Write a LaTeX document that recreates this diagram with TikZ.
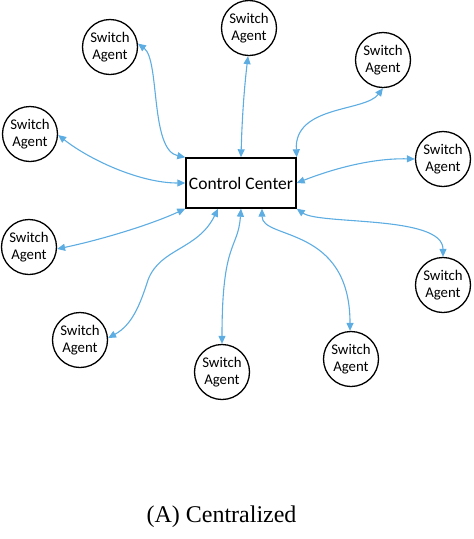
\documentclass[tikz,border=0pt]{standalone}
\usepackage{fontspec}
\setmainfont{Carlito}
\newfontfamily\capfont{Liberation Serif}
\usetikzlibrary{arrows.meta,calc}
\definecolor{linkblue}{RGB}{93,173,226}
\begin{document}
\begin{tikzpicture}[x=1pt,y=-1pt,
 agent/.style={circle,draw,line width=1.3pt,minimum size=55pt,inner sep=0pt,align=center,font=\fontsize{14.8}{17}\selectfont},
 center/.style={draw,line width=1.4pt,minimum width=110pt,minimum height=50pt,inner sep=0pt,font=\fontsize{17.5}{20}\selectfont},
 link/.style={draw=linkblue,line width=1.1pt,{Triangle[length=8pt,width=7pt]}-{Triangle[length=8pt,width=7pt]}},
 ]
\useasboundingbox (0,0) rectangle (474,539);
\node[center] (cc) at (241,183) {Control Center};
\node[agent] (a1) at (110,47) {Switch\\Agent};
\node[agent] (a2) at (249,28) {Switch\\Agent};
\node[agent] (a3) at (383,60) {Switch\\Agent};
\node[agent] (a4) at (30,134) {Switch\\Agent};
\node[agent] (a5) at (443,159) {Switch\\Agent};
\node[agent] (a6) at (29,247) {Switch\\Agent};
\node[agent] (a7) at (80,340) {Switch\\Agent};
\node[agent] (a8) at (222,372) {Switch\\Agent};
\node[agent] (a9) at (351,359) {Switch\\Agent};
\node[agent] (a10) at (443,285) {Switch\\Agent};
\draw[link] (a1.7) .. controls (160,60) and (150,150) .. (cc.north west);
\draw[link] (a2.-92) .. controls (244,90) and (242,120) .. (cc.north);
\draw[link] (cc.north east) .. controls (294,105) and (365,112) .. (a3.-90);
\draw[link] (a4.-2) .. controls (90,160) and (140,183) .. (cc.west);
\draw[link] (cc.east) .. controls (330,170) and (370,158) .. (a5.180);
\draw[link] (cc.south west) .. controls (150,225) and (100,240) .. (a6.-4);
\draw[link] ([xshift=-23pt]cc.south) .. controls (198,250) and (160,248) .. (148,280) .. controls (140,305) and (132,325) .. (a7.4);
\draw[link] (cc.south) .. controls (238,250) and (222,240) .. (a8.90);
\draw[link] ([xshift=21pt]cc.south) .. controls (262,240) and (350,225) .. (a9.92);
\draw[link] (cc.south east) .. controls (320,225) and (443,215) .. (a10.90);
\node[font=\capfont\fontsize{24}{27}\selectfont,anchor=base] (cap) at (221.5,522) {(A) Centralized};
\end{tikzpicture}
\end{document}
